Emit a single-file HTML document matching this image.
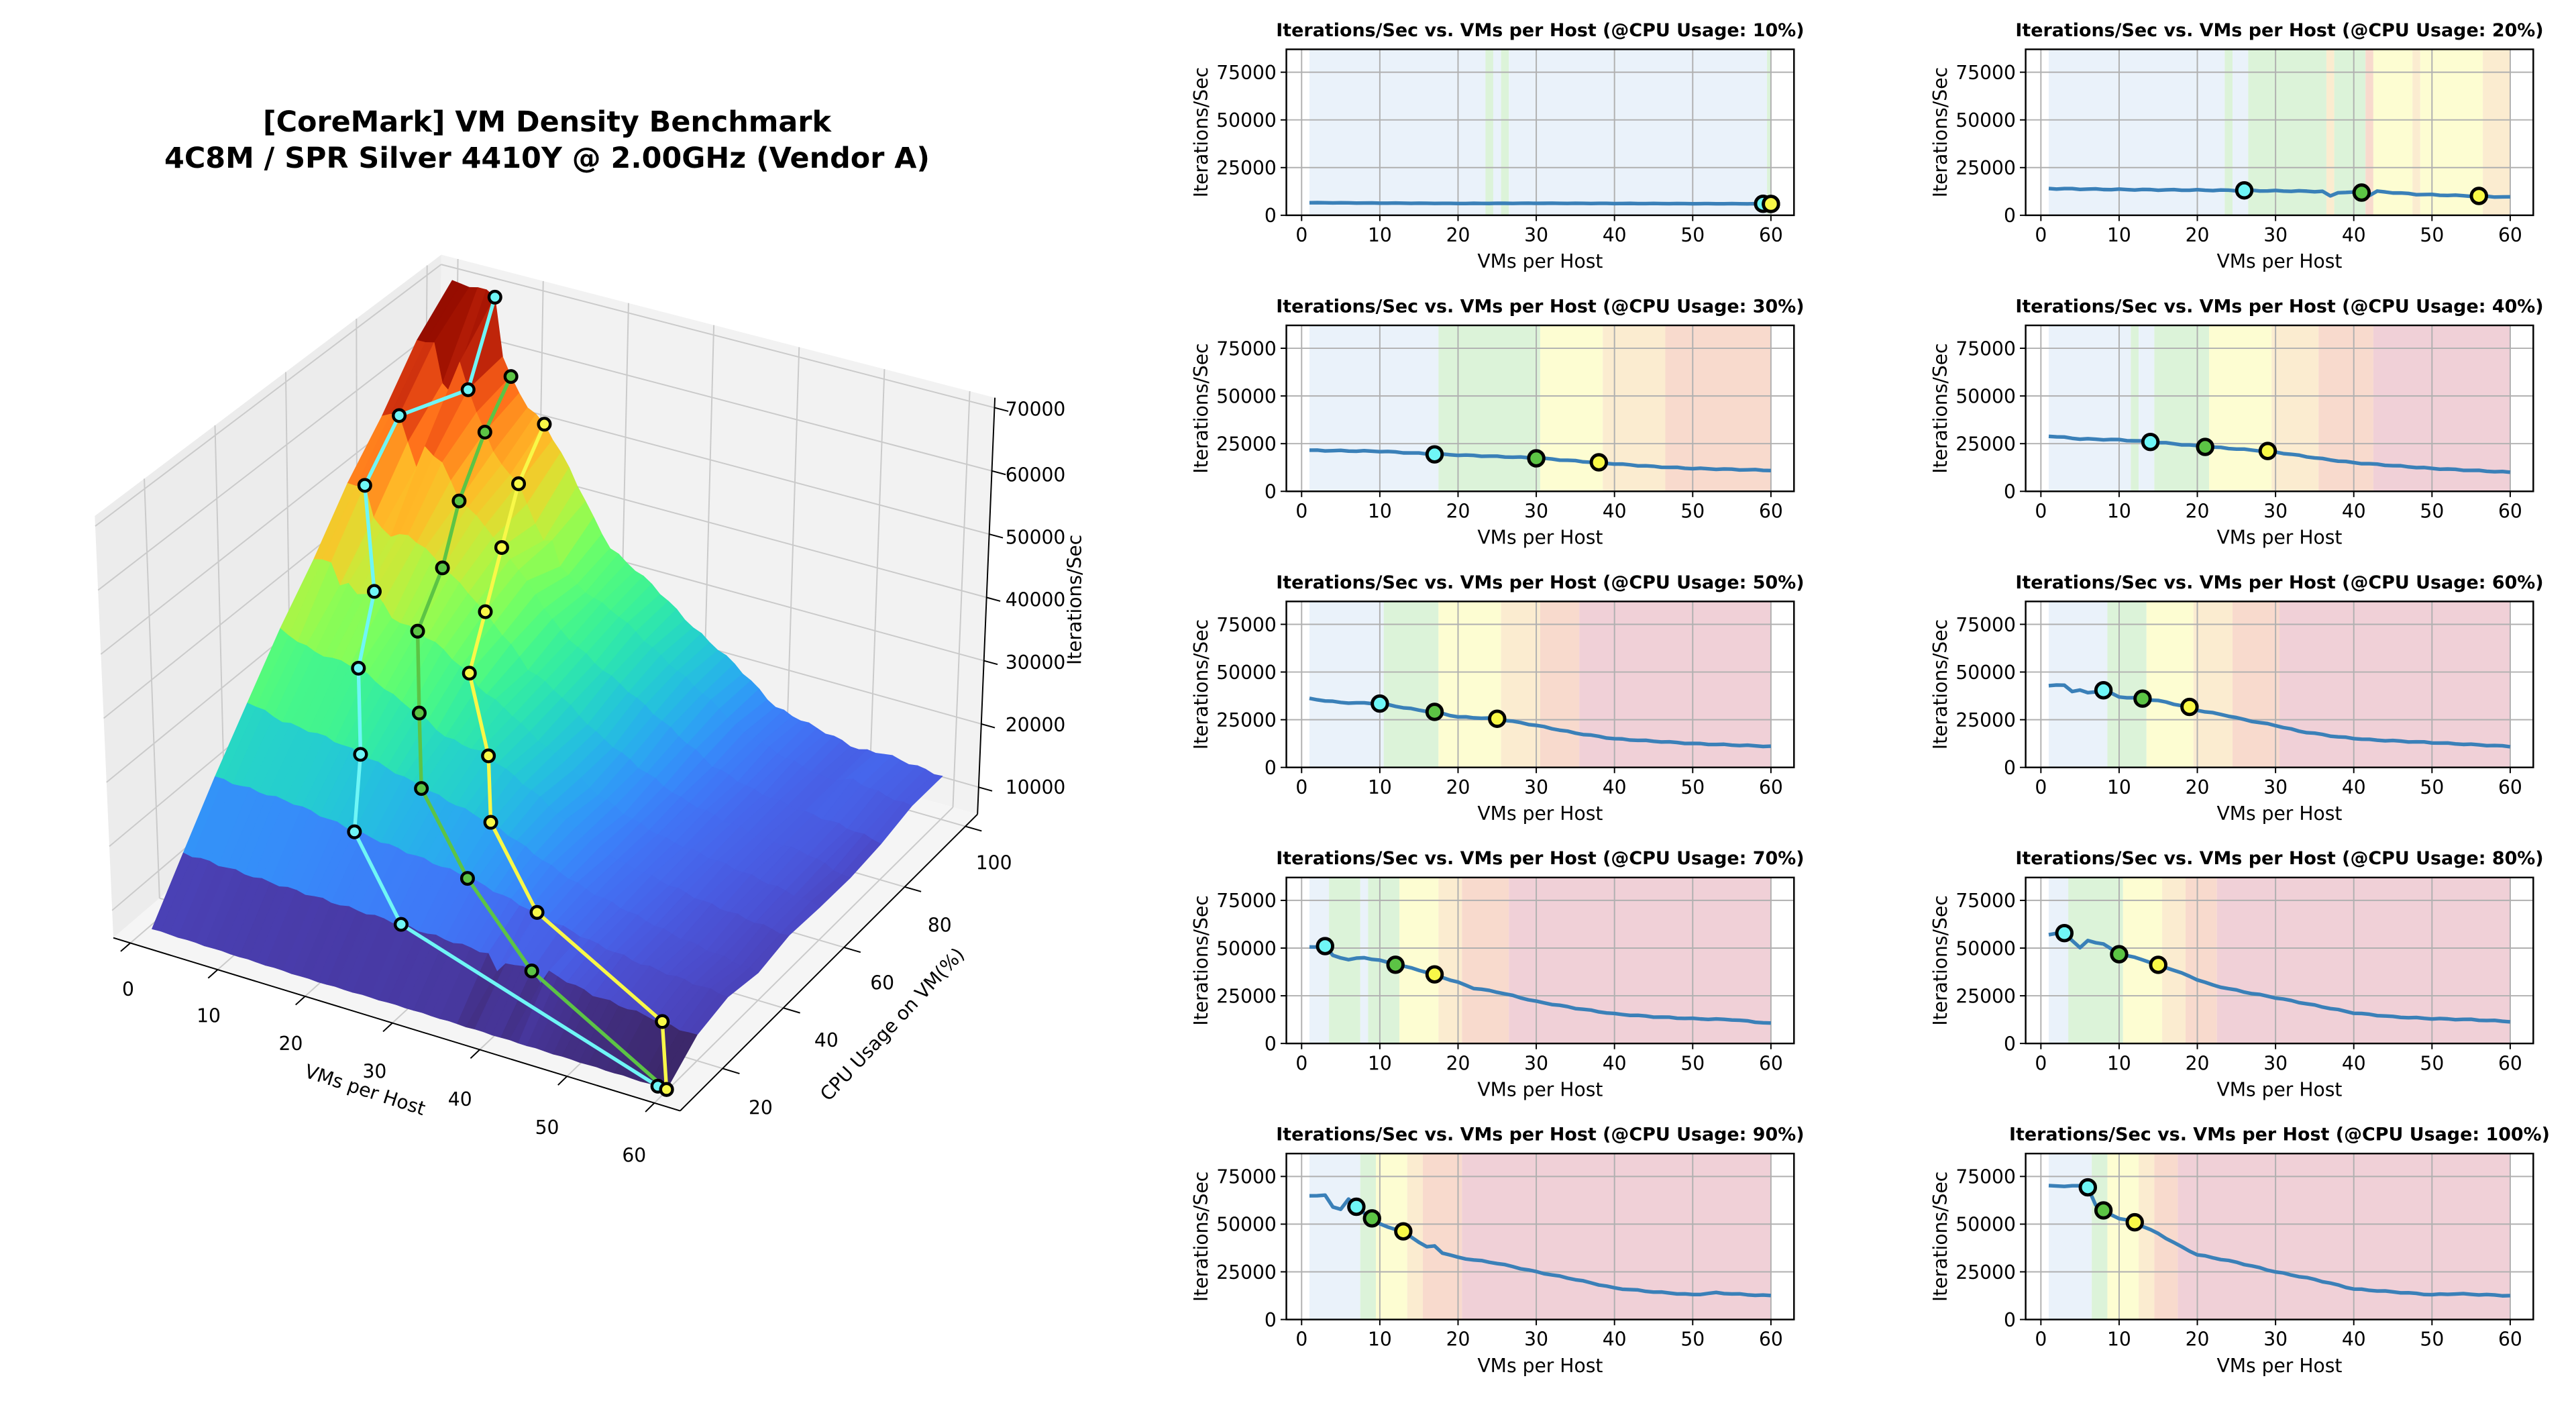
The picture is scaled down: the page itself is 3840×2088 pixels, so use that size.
<!DOCTYPE html>
<html><head><meta charset="utf-8"><style>
html,body{margin:0;padding:0;background:#fff;}
svg{display:block;font-family:"DejaVu Sans","Liberation Sans",sans-serif;}
</style></head><body>
<svg id="s" xmlns="http://www.w3.org/2000/svg" width="3840" height="2088" viewBox="0 0 1568 852.57">
<rect width="1568" height="853" fill="#fff"/>
<g id="g3d"></g>
<g id="gsub"></g>
<g font-size="17.5" font-weight="bold" text-anchor="middle">
<text x="333" y="80">[CoreMark] VM Density Benchmark</text>
<text x="333" y="102">4C8M / SPR Silver 4410Y @ 2.00GHz (Vendor A)</text>
</g>
<g font-size="11.5" text-anchor="middle">
<text x="78" y="606">0</text><text x="127" y="622">10</text><text x="177" y="639">20</text><text x="228" y="656">30</text><text x="280" y="673">40</text><text x="333" y="690">50</text><text x="386" y="707">60</text>
<text x="463" y="678">20</text><text x="503" y="637">40</text><text x="537" y="602">60</text><text x="572" y="567">80</text><text x="605" y="529">100</text>
<text transform="translate(221,667) rotate(18)">VMs per Host</text>
<text transform="translate(546,626) rotate(-47)">CPU Usage on VM(%)</text>
<text transform="translate(658,365) rotate(-90)">Iterations/Sec</text>
</g>
<g font-size="11.5" text-anchor="start">
<text x="612" y="483">10000</text><text x="612" y="445">20000</text><text x="612" y="407">30000</text><text x="612" y="369">40000</text><text x="612" y="331">50000</text><text x="612" y="293">60000</text><text x="612" y="253">70000</text>
</g>
</svg>
<script>
const NS="http://www.w3.org/2000/svg";
function el(p,t,a,txt){const e=document.createElementNS(NS,t);for(const k in a)e.setAttribute(k,a[k]);if(txt!==undefined)e.textContent=txt;p.appendChild(e);return e;}
const C={
10:[[1,6600],[10,6400],[20,6200],[30,6300],[40,6200],[50,6100],[60,6000]],
20:[[1,14000],[10,13500],[26,13000],[36,12500],[37,10000],[38,12000],[41,12000],[42,10500],[43,12500],[48,11000],[56,10000],[60,9500]],
30:[[1,21500],[10,21000],[17,19500],[30,17500],[38,15000],[45,13000],[50,12000],[60,11000]],
40:[[1,29000],[5,27500],[10,27000],[14,26000],[21,23500],[29,21000],[31,20000],[36,17000],[40,15000],[45,13500],[50,12000],[60,10000]],
50:[[1,36000],[5,34000],[10,33500],[15,30000],[17,29000],[20,26500],[25,25500],[30,22000],[35,18000],[40,15000],[46,13500],[50,12500],[60,11000]],
60:[[1,43000],[3,43000],[4,40000],[5,40500],[6,39000],[8,40500],[10,37000],[13,36000],[15,35000],[19,31500],[20,30000],[24,27000],[26,25000],[30,22000],[33,19000],[38,16000],[42,14500],[50,13000],[55,12000],[60,11000]],
70:[[1,50500],[3,51000],[4,46000],[6,44000],[8,45000],[10,43500],[12,41500],[15,38500],[17,36000],[20,32000],[22,29000],[25,27000],[28,24000],[30,22000],[35,18500],[40,15500],[45,14000],[50,13000],[55,12500],[60,10500]],
80:[[1,57000],[3,58000],[5,50000],[6,54000],[8,52000],[10,47000],[13,44000],[15,41000],[17,38500],[20,33500],[22,30500],[26,27000],[30,24000],[35,20000],[40,16000],[45,14000],[50,13000],[55,12500],[60,11500]],
90:[[1,65000],[3,65000],[4,59000],[5,58000],[6,63000],[7,59000],[9,53000],[10,50000],[13,46000],[16,38000],[17,38500],[18,35000],[20,32500],[25,29500],[30,25000],[35,21000],[40,16500],[45,14500],[50,13000],[53,14000],[57,13000],[60,12500]],
100:[[1,70000],[5,70000],[6,69500],[7,60000],[8,57000],[10,53000],[12,51000],[15,45000],[18,38000],[20,34000],[25,30000],[30,25000],[35,21000],[40,16000],[45,14500],[50,13000],[53,13500],[60,12500]]};
function interp(a,v){if(v<=a[0][0])return a[0][1];for(let i=1;i<a.length;i++){if(v<=a[i][0]){const t=(v-a[i-1][0])/(a[i][0]-a[i-1][0]);return a[i-1][1]+t*(a[i][1]-a[i-1][1]);}}return a[a.length-1][1];}
function val(c,vm){return interp(C[c],vm)+(c>10?220:60)*Math.sin(vm*1.9+c*0.37);}
const M={10:[59,60,60],20:[26,41,56],30:[17,30,38],40:[14,21,29],50:[10,17,25],60:[8,13,19],70:[3,12,17],80:[3,10,15],90:[7,9,13],100:[6,8,12]};
const MC=["#6ff6f6","#5cc445","#f8f848"];
const B={
10:[[1,23.5,0],[23.5,24.5,1],[24.5,25.5,0],[25.5,26.5,1],[26.5,59.5,0],[59.5,60,1]],
20:[[1,23.5,0],[23.5,24.5,1],[24.5,26.5,0],[26.5,36.5,1],[36.5,37.5,3],[37.5,41.5,1],[41.5,42.5,4],[42.5,47.5,2],[47.5,48.5,3],[48.5,56.5,2],[56.5,60,3]],
30:[[1,17.5,0],[17.5,30.5,1],[30.5,38.5,2],[38.5,46.5,3],[46.5,60,4]],
40:[[1,11.5,0],[11.5,12.5,1],[12.5,14.5,0],[14.5,21.5,1],[21.5,29.5,2],[29.5,35.5,3],[35.5,42.5,4],[42.5,60,5]],
50:[[1,10.5,0],[10.5,17.5,1],[17.5,25.5,2],[25.5,30.5,3],[30.5,35.5,4],[35.5,60,5]],
60:[[1,8.5,0],[8.5,13.5,1],[13.5,19.5,2],[19.5,24.5,3],[24.5,30.5,4],[30.5,60,5]],
70:[[1,3.5,0],[3.5,7.5,1],[7.5,8.5,0],[8.5,12.5,1],[12.5,17.5,2],[17.5,20.5,3],[20.5,26.5,4],[26.5,60,5]],
80:[[1,3.5,0],[3.5,10.5,1],[10.5,15.5,2],[15.5,18.5,3],[18.5,22.5,4],[22.5,60,5]],
90:[[1,7.5,0],[7.5,9.5,1],[9.5,13.5,2],[13.5,15.5,3],[15.5,20.5,4],[20.5,60,5]],
100:[[1,6.5,0],[6.5,8.5,1],[8.5,12.5,2],[12.5,14.5,3],[14.5,17.5,4],[17.5,60,5]]};
const BC=["#eaf2fa","#dcf3d9","#fdfdd2","#fbecd0","#f8dacd","#f0d0d7"];
const gs=document.getElementById("gsub");
const cpus=[10,20,30,40,50,60,70,80,90,100];
cpus.forEach((c,i)=>{
 const col=i%2,row=Math.floor(i/2);
 const x0=col?1233:783,y0=30+row*168,w=309,h=101;
 const X=v=>x0+(v+1.95)/64.9*w, Y=z=>y0+h-z/87000*h;
 const g=el(gs,"g",{});
 B[c].forEach(b=>el(g,"rect",{x:X(b[0]),y:y0,width:X(b[1])-X(b[0]),height:h,fill:BC[b[2]]}));
 for(let v=0;v<=60;v+=10){el(g,"line",{x1:X(v),x2:X(v),y1:y0,y2:y0+h,stroke:"#b0b0b0","stroke-width":0.8});
  el(g,"line",{x1:X(v),x2:X(v),y1:y0+h,y2:y0+h+3.5,stroke:"#000","stroke-width":0.8});
  el(g,"text",{x:X(v),y:y0+h+16,"font-size":11.5,"text-anchor":"middle"},String(v));}
 for(let z=0;z<=75000;z+=25000){el(g,"line",{x1:x0,x2:x0+w,y1:Y(z),y2:Y(z),stroke:"#b0b0b0","stroke-width":0.8});
  el(g,"line",{x1:x0-3.5,x2:x0,y1:Y(z),y2:Y(z),stroke:"#000","stroke-width":0.8});
  el(g,"text",{x:x0-6,y:Y(z)+4.2,"font-size":11.5,"text-anchor":"end"},String(z));}
 let pts=[];for(let v=1;v<=60;v++)pts.push(X(v).toFixed(2)+","+Y(val(c,v)).toFixed(2));
 el(g,"polyline",{points:pts.join(" "),fill:"none",stroke:"#3a80b8","stroke-width":2.2,"stroke-linejoin":"round"});
 M[c].forEach((v,k)=>el(g,"circle",{cx:X(v),cy:Y(val(c,v)),r:4.6,fill:MC[k],stroke:"#000","stroke-width":2}));
 el(g,"rect",{x:x0,y:y0,width:w,height:h,fill:"none",stroke:"#000","stroke-width":1});
 el(g,"text",{x:x0+w/2,y:y0+h+32,"font-size":11.5,"text-anchor":"middle"},"VMs per Host");
 el(g,"text",{transform:`translate(${x0-48},${y0+h/2}) rotate(-90)`,"font-size":11.5,"text-anchor":"middle"},"Iterations/Sec");
 el(g,"text",{x:x0+w/2,y:y0-8,"font-size":11,"font-weight":"bold","text-anchor":"middle"},`Iterations/Sec vs. VMs per Host (@CPU Usage: ${c}%)`);
});
const g3=document.getElementById("g3d");
const FLB=[69,570.7],FRB=[414,676],BLB=[265.7,401.9],BRB=[595,495.5];
const FLT=[57.7,314],FRT=[413,414],BLT=[268.6,155],BRT=[605.6,242];
function bil(a,b,c,d,u,v){const f=[a[0]+u*(b[0]-a[0]),a[1]+u*(b[1]-a[1])],k=[c[0]+u*(d[0]-c[0]),c[1]+u*(d[1]-c[1])];return[f[0]+v*(k[0]-f[0]),f[1]+v*(k[1]-f[1])];}
function P(u,v,w){const b=bil(FLB,FRB,BLB,BRB,u,v),t=bil(FLT,FRT,BLT,BRT,u,v);return[b[0]+w*(t[0]-b[0]),b[1]+w*(t[1]-b[1])];}
const U=vm=>(vm+1.95)/64.9,V=c=>(c-6)/98,W=z=>(z-5720)/65860;
function proj(vm,c,z){return P(U(vm),V(c),W(z));}
function pstr(a){return a.map(p=>p[0].toFixed(2)+","+p[1].toFixed(2)).join(" ");}
el(g3,"polygon",{points:pstr([P(0,0,0),P(0,1,0),P(0,1,1),P(0,0,1)]),fill:"#ececec"});
el(g3,"polygon",{points:pstr([P(0,1,0),P(1,1,0),P(1,1,1),P(0,1,1)]),fill:"#f2f2f2"});
el(g3,"polygon",{points:pstr([P(0,0,0),P(1,0,0),P(1,1,0),P(0,1,0)]),fill:"#f5f5f5"});
const gc={stroke:"#cacaca","stroke-width":0.8,fill:"none"};
function ln(a,b,att){el(g3,"line",Object.assign({x1:a[0],y1:a[1],x2:b[0],y2:b[1]},att));}
for(let v=0;v<=60;v+=10){ln(P(U(v),1,0),P(U(v),1,1),gc);ln(P(U(v),0,0),P(U(v),1,0),gc);ln(P(U(v),0,0),P(U(v),-0.03,0),{stroke:"#000","stroke-width":0.8});}
for(let c=20;c<=100;c+=20){ln(P(0,V(c),0),P(0,V(c),1),gc);ln(P(0,V(c),0),P(1,V(c),0),gc);ln(P(1,V(c),0),P(1.03,V(c),0),{stroke:"#000","stroke-width":0.8});}
for(let z=10000;z<=70000;z+=10000){ln(P(0,0,W(z)),P(0,1,W(z)),gc);ln(P(0,1,W(z)),P(1,1,W(z)),gc);ln(P(1,1,W(z)),P(1.025,1,W(z)),{stroke:"#000","stroke-width":0.8});}
ln(P(0,0,0),P(1,0,0),{stroke:"#000","stroke-width":0.8});
ln(P(1,0,0),P(1,1,0),{stroke:"#000","stroke-width":0.8});
ln(P(1,1,0),P(1,1,1),{stroke:"#000","stroke-width":0.8});
function turbo(t){t=Math.max(0,Math.min(1,t));
 const r=0.13572138+t*(4.61539260+t*(-42.66032258+t*(132.13108234+t*(-152.94239396+t*59.28637943))));
 const g=0.09140261+t*(2.19418839+t*(4.84296658+t*(-14.18503333+t*(4.27729857+t*2.82956604))));
 const b=0.10667330+t*(12.64194608+t*(-60.58204836+t*(110.36276771+t*(-89.90310912+t*27.34824973))));
 const f=x=>Math.round(255*Math.max(0,Math.min(1,x)));return `rgb(${f(r)},${f(g)},${f(b)})`;}
const facets=[];
for(let j=0;j<9;j++){const c0=cpus[j],c1=cpus[j+1];
 for(let vm=1;vm<60;vm++){
  const z00=val(c0,vm),z10=val(c0,vm+1),z01=val(c1,vm),z11=val(c1,vm+1);
  const pts=[proj(vm,c0,z00),proj(vm+1,c0,z10),proj(vm+1,c1,z11),proj(vm,c1,z01)];
  const zm=(z00+z10+z01+z11)/4;
  const depth=U(vm+0.5)+(1-V((c0+c1)/2));
  facets.push({pts,col:turbo((zm-6000)/64000),depth});}}
facets.sort((a,b)=>a.depth-b.depth);
facets.forEach(f=>el(g3,"polygon",{points:pstr(f.pts),fill:f.col,stroke:f.col,"stroke-width":0.4,"stroke-linejoin":"round"}));
[0,1,2].forEach(k=>{const pts=cpus.map(c=>proj(M[c][k],c,val(c,M[c][k])));
 el(g3,"polyline",{points:pstr(pts),fill:"none",stroke:MC[k],"stroke-width":2.2});});
[0,1,2].forEach(k=>cpus.forEach(c=>{const p=proj(M[c][k],c,val(c,M[c][k]));el(g3,"circle",{cx:p[0],cy:p[1],r:3.6,fill:MC[k],stroke:"#000","stroke-width":1.8});}));
</script>
</body></html>
